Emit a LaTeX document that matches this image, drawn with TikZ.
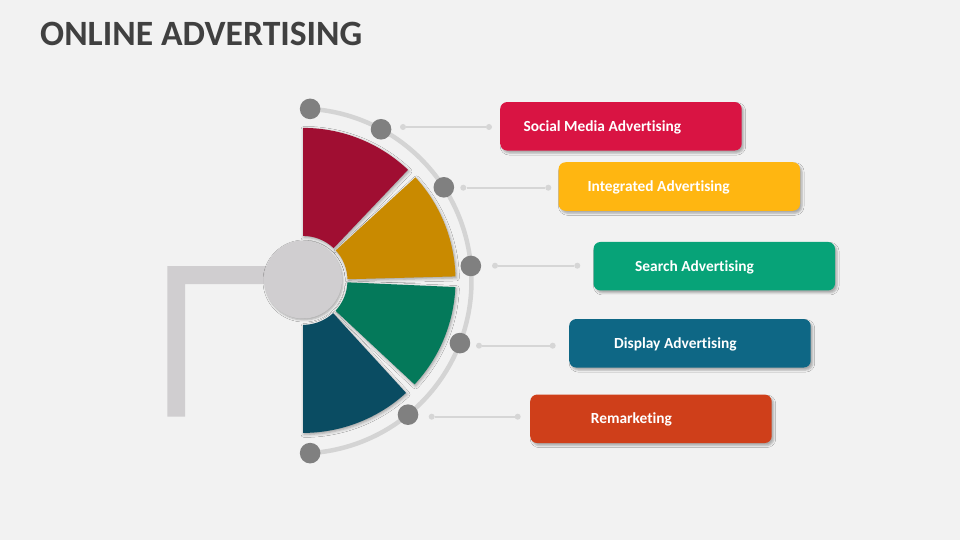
\documentclass[tikz,border=0pt]{standalone}
\usepackage{fontspec}
\setmainfont{Carlito}[Ligatures=NoCommon]
\usetikzlibrary{shadows.blur,calc}
\definecolor{bg}{HTML}{F2F2F2}
\definecolor{titlegray}{HTML}{404040}
\definecolor{circgray}{HTML}{D0CED0}
\definecolor{ringgray}{HTML}{D4D4D4}
\definecolor{dotgray}{HTML}{808080}
\definecolor{linegray}{HTML}{D6D6D6}
\definecolor{secred}{HTML}{A00E32}
\definecolor{secyellow}{HTML}{C98A00}
\definecolor{secgreen}{HTML}{04795A}
\definecolor{secblue}{HTML}{0A4C62}
\definecolor{boxred}{HTML}{D91443}
\definecolor{boxyellow}{HTML}{FFB611}
\definecolor{boxgreen}{HTML}{07A378}
\definecolor{boxblue}{HTML}{0E6785}
\definecolor{boxorange}{HTML}{CF3F1A}
\newcommand\mysector[3]{%
  \path[fill=#1, sectorshade] ($(c)+(-#2:152.5)$) arc[start angle=-#2, end angle=-#3, radius=152.5]
    -- ($(c)+(-#3:44.5)$) arc[start angle=-#3, end angle=-#2, radius=44.5] -- cycle;}
\begin{document}
\begin{tikzpicture}[x=1pt,y=-1pt,
  bigdot/.style={circle, fill=dotgray, minimum size=20.6pt, inner sep=0},
  smalldot/.style={circle, fill=linegray, minimum size=6pt, inner sep=0},
  conn/.style={draw=linegray, line width=2pt},
  ring/.style={draw=ringgray, line width=4.5pt},
  box/.style={rounded corners=7pt, minimum width=241.5pt, minimum height=48.5pt, inner sep=0,
    blur shadow={shadow xshift=2pt, shadow yshift=-2.5pt, shadow blur radius=2pt, shadow opacity=30}},
  boxtext/.style={anchor=base west, text=white, font=\bfseries\fontsize{15.4}{18}\selectfont, inner sep=0},
  sectorshade/.style={blur shadow={shadow xshift=1pt, shadow yshift=-1.5pt, shadow blur radius=3pt, shadow opacity=35}},
  bar/.style={fill=circgray}
]
\fill[bg] (0,0) rectangle (960,540);
\useasboundingbox (0,0) rectangle (960,540);
% title
\node[anchor=base west, font=\bfseries\fontsize{35.6}{40}\selectfont, text=titlegray, inner sep=0] (title) at (40,46) {ONLINE ADVERTISING};
\coordinate (c) at (303,280.4);
\coordinate (rc) at (299,281);
% L bar
\fill[bar] (167.3,266) -- (300,266) -- (300,284) -- (185,284) -- (185,416.7) -- (167.3,416.7) -- cycle;
% ring
\draw[ring] ($(rc)+(-86.3:172.5)$) arc[start angle=-86.3, end angle=86.3, radius=172.5];
% sectors
\mysector{secred}{90}{46.5}
\mysector{secyellow}{42.5}{1.5}
\mysector{secgreen}{-2.5}{-43}
\mysector{secblue}{-47.5}{-90}
% centre circle
\node[circle, fill=circgray, minimum size=78pt, inner sep=0,
  blur shadow={shadow xshift=1pt, shadow yshift=-1.5pt, shadow blur radius=2pt, shadow opacity=30}] (hub) at (303,279.5) {};
% big dots
\node[bigdot] (d1) at ($(rc)+(-86.3:172.5)$) {};
\node[bigdot] (d2) at ($(rc)+(-61.6:172.5)$) {};
\node[bigdot] (d3) at ($(rc)+(-32.9:172.5)$) {};
\node[bigdot] (d4) at ($(rc)+(-5.0:172.5)$) {};
\node[bigdot] (d5) at ($(rc)+(21.1:172.5)$) {};
\node[bigdot] (d6) at ($(rc)+(50.8:172.5)$) {};
\node[bigdot] (d7) at ($(rc)+(86.3:172.5)$) {};
% connectors
\node[smalldot] (s1a) at (403,127) {};   \node[smalldot] (s1b) at (489,127) {};
\node[smalldot] (s2a) at (463.3,187.7) {}; \node[smalldot] (s2b) at (548.3,187.7) {};
\node[smalldot] (s3a) at (495,265.7) {}; \node[smalldot] (s3b) at (577.3,265.7) {};
\node[smalldot] (s4a) at (479,345.7) {}; \node[smalldot] (s4b) at (552.7,345.7) {};
\node[smalldot] (s5a) at (431.7,416.7) {}; \node[smalldot] (s5b) at (517.7,416.7) {};
\draw[conn] (s1a) -- (s1b);
\draw[conn] (s2a) -- (s2b);
\draw[conn] (s3a) -- (s3b);
\draw[conn] (s4a) -- (s4b);
\draw[conn] (s5a) -- (s5b);
% boxes
\node[box, fill=boxred, anchor=west] (b1) at (500,126.3) {};
\node[box, fill=boxyellow, anchor=west] (b2) at (558.3,186.5) {};
\node[box, fill=boxgreen, anchor=west] (b3) at (593.3,266.2) {};
\node[box, fill=boxblue, anchor=west] (b4) at (569,343.3) {};
\node[box, fill=boxorange, anchor=west] (b5) at (530,418.8) {};
\node[boxtext] (t1) at (523.3,131.3) {Social Media Advertising};
\node[boxtext] (t2) at (587.3,191.5) {Integrated Advertising};
\node[boxtext] (t3) at (635,271.2) {Search Advertising};
\node[boxtext] (t4) at (614,348.3) {Display Advertising};
\node[boxtext] (t5) at (590.7,423.8) {Remarketing};
\end{tikzpicture}
\end{document}
